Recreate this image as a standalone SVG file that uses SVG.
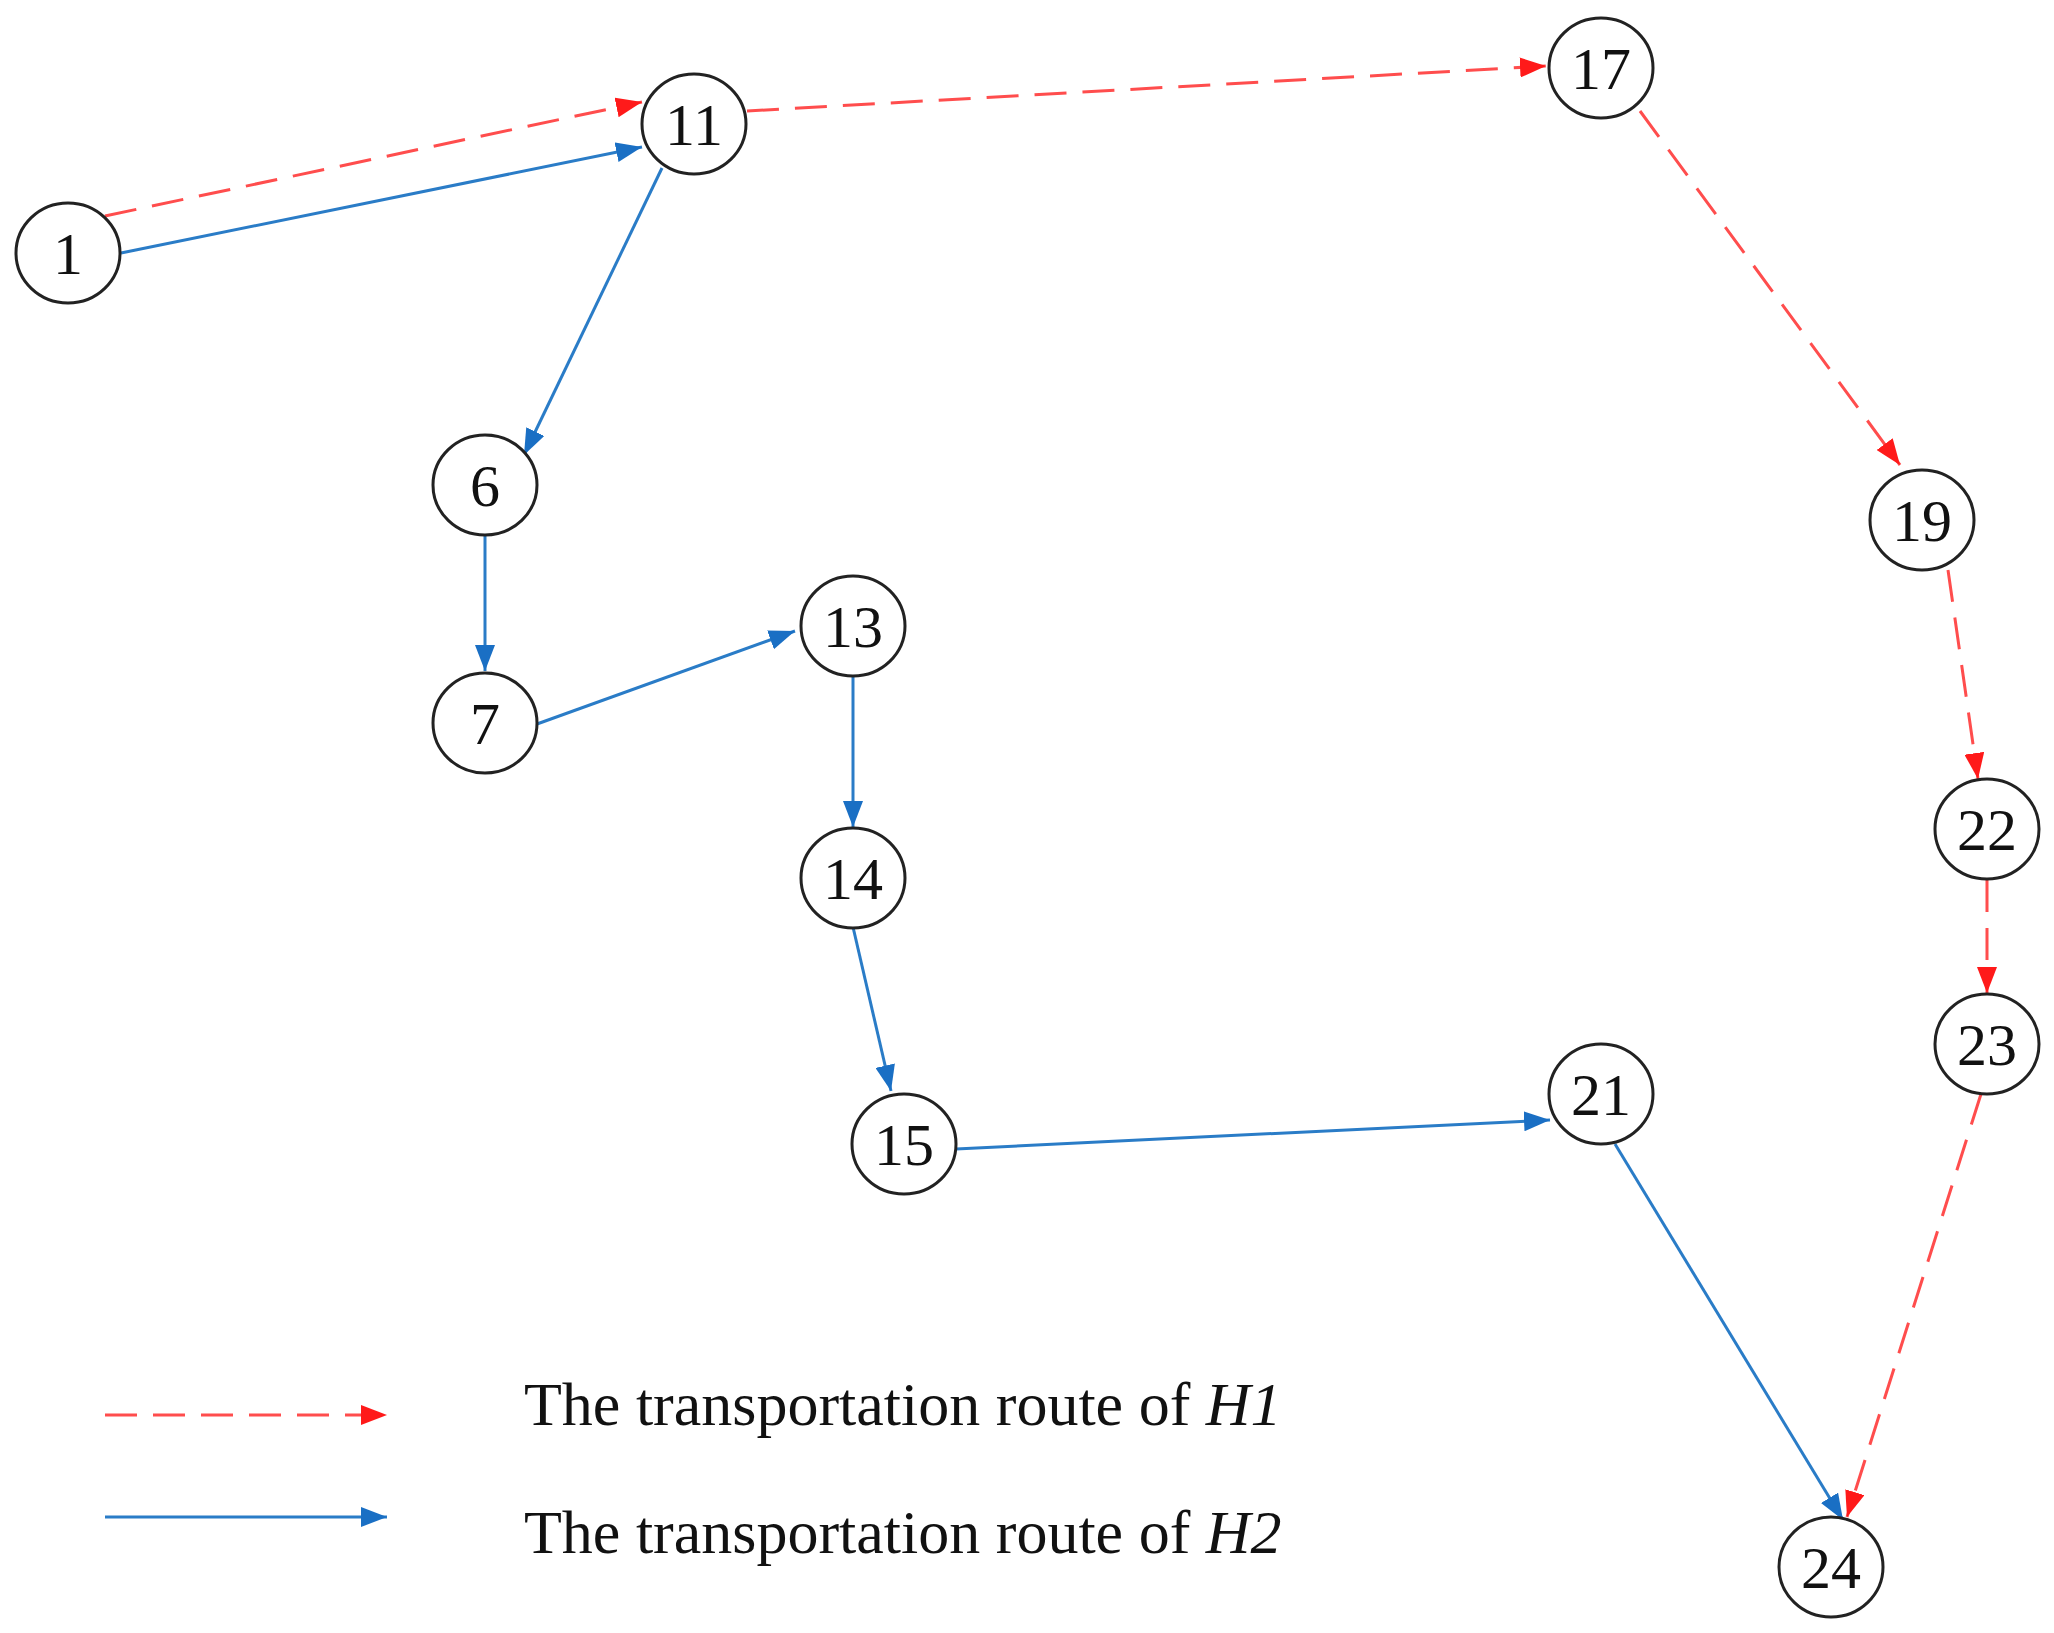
<svg xmlns="http://www.w3.org/2000/svg" width="2054" height="1633" viewBox="0 0 2054 1633">
<defs>
<style>
.n ellipse{fill:#fff;stroke:#222;stroke-width:3}
.n text{font-family:"Liberation Serif",serif;font-size:60px;text-anchor:middle;fill:#111}
.r{stroke:#ff4d4d;stroke-width:3;stroke-dasharray:32 16;fill:none;marker-end:url(#ar)}
.b{stroke:#2a7cc7;stroke-width:3;fill:none;marker-end:url(#ab)}
.lg{font-family:"Liberation Serif",serif;font-size:62px;fill:#111}
</style>
<marker id="ar" markerUnits="userSpaceOnUse" markerWidth="28" markerHeight="20" refX="26" refY="10" orient="auto"><path d="M0,0 L26,10 L0,20 Z" fill="#ff1a1a"/></marker>
<marker id="ab" markerUnits="userSpaceOnUse" markerWidth="28" markerHeight="20" refX="26" refY="10" orient="auto"><path d="M0,0 L26,10 L0,20 Z" fill="#1a6fc4"/></marker>
</defs>
<rect width="2054" height="1633" fill="#fff"/>
<g id="connectors">
<line class="r" x1="105" y1="216" x2="642" y2="102"/>
<line class="r" x1="747" y1="111" x2="1546" y2="66"/>
<line class="r" x1="1640" y1="111" x2="1900" y2="465"/>
<line class="r" x1="1948" y1="570" x2="1978" y2="779"/>
<line class="r" x1="1987" y1="880" x2="1987" y2="993"/>
<line class="r" x1="1981" y1="1094" x2="1847" y2="1517"/>
<line class="b" x1="121" y1="253" x2="642" y2="147"/>
<line class="b" x1="662" y1="168" x2="524" y2="455"/>
<line class="b" x1="485" y1="534" x2="485" y2="671"/>
<line class="b" x1="537" y1="724" x2="795" y2="631"/>
<line class="b" x1="853" y1="677" x2="853" y2="827"/>
<line class="b" x1="853" y1="927" x2="891" y2="1091"/>
<line class="b" x1="956" y1="1149" x2="1550" y2="1120"/>
<line class="b" x1="1615" y1="1144" x2="1843" y2="1520"/>
</g>
<g id="n1" class="n"><ellipse cx="68" cy="253" rx="52" ry="50"/><text x="68" y="274">1</text></g>
<g id="n11" class="n"><ellipse cx="694" cy="124" rx="52" ry="50"/><text x="694" y="145">11</text></g>
<g id="n17" class="n"><ellipse cx="1601" cy="68" rx="52" ry="50"/><text x="1601" y="89">17</text></g>
<g id="n6" class="n"><ellipse cx="485" cy="485" rx="52" ry="50"/><text x="485" y="506">6</text></g>
<g id="n7" class="n"><ellipse cx="485" cy="723" rx="52" ry="50"/><text x="485" y="744">7</text></g>
<g id="n13" class="n"><ellipse cx="853" cy="626" rx="52" ry="50"/><text x="853" y="647">13</text></g>
<g id="n14" class="n"><ellipse cx="853" cy="878" rx="52" ry="50"/><text x="853" y="899">14</text></g>
<g id="n15" class="n"><ellipse cx="904" cy="1144" rx="52" ry="50"/><text x="904" y="1165">15</text></g>
<g id="n21" class="n"><ellipse cx="1601" cy="1094" rx="52" ry="50"/><text x="1601" y="1115">21</text></g>
<g id="n19" class="n"><ellipse cx="1922" cy="520" rx="52" ry="50"/><text x="1922" y="541">19</text></g>
<g id="n22" class="n"><ellipse cx="1987" cy="829" rx="52" ry="50"/><text x="1987" y="850">22</text></g>
<g id="n23" class="n"><ellipse cx="1987" cy="1044" rx="52" ry="50"/><text x="1987" y="1065">23</text></g>
<g id="n24" class="n"><ellipse cx="1831" cy="1567" rx="52" ry="50"/><text x="1831" y="1588">24</text></g>
<g id="legend">
<line class="r" x1="105" y1="1415" x2="387" y2="1415" stroke-dasharray="40 18"/>
<line class="b" x1="105" y1="1517" x2="387" y2="1517"/>
<text class="lg" x="524" y="1425">The transportation route of <tspan font-style="italic">H1</tspan></text>
<text class="lg" x="524" y="1553">The transportation route of <tspan font-style="italic">H2</tspan></text>
</g>
</svg>
